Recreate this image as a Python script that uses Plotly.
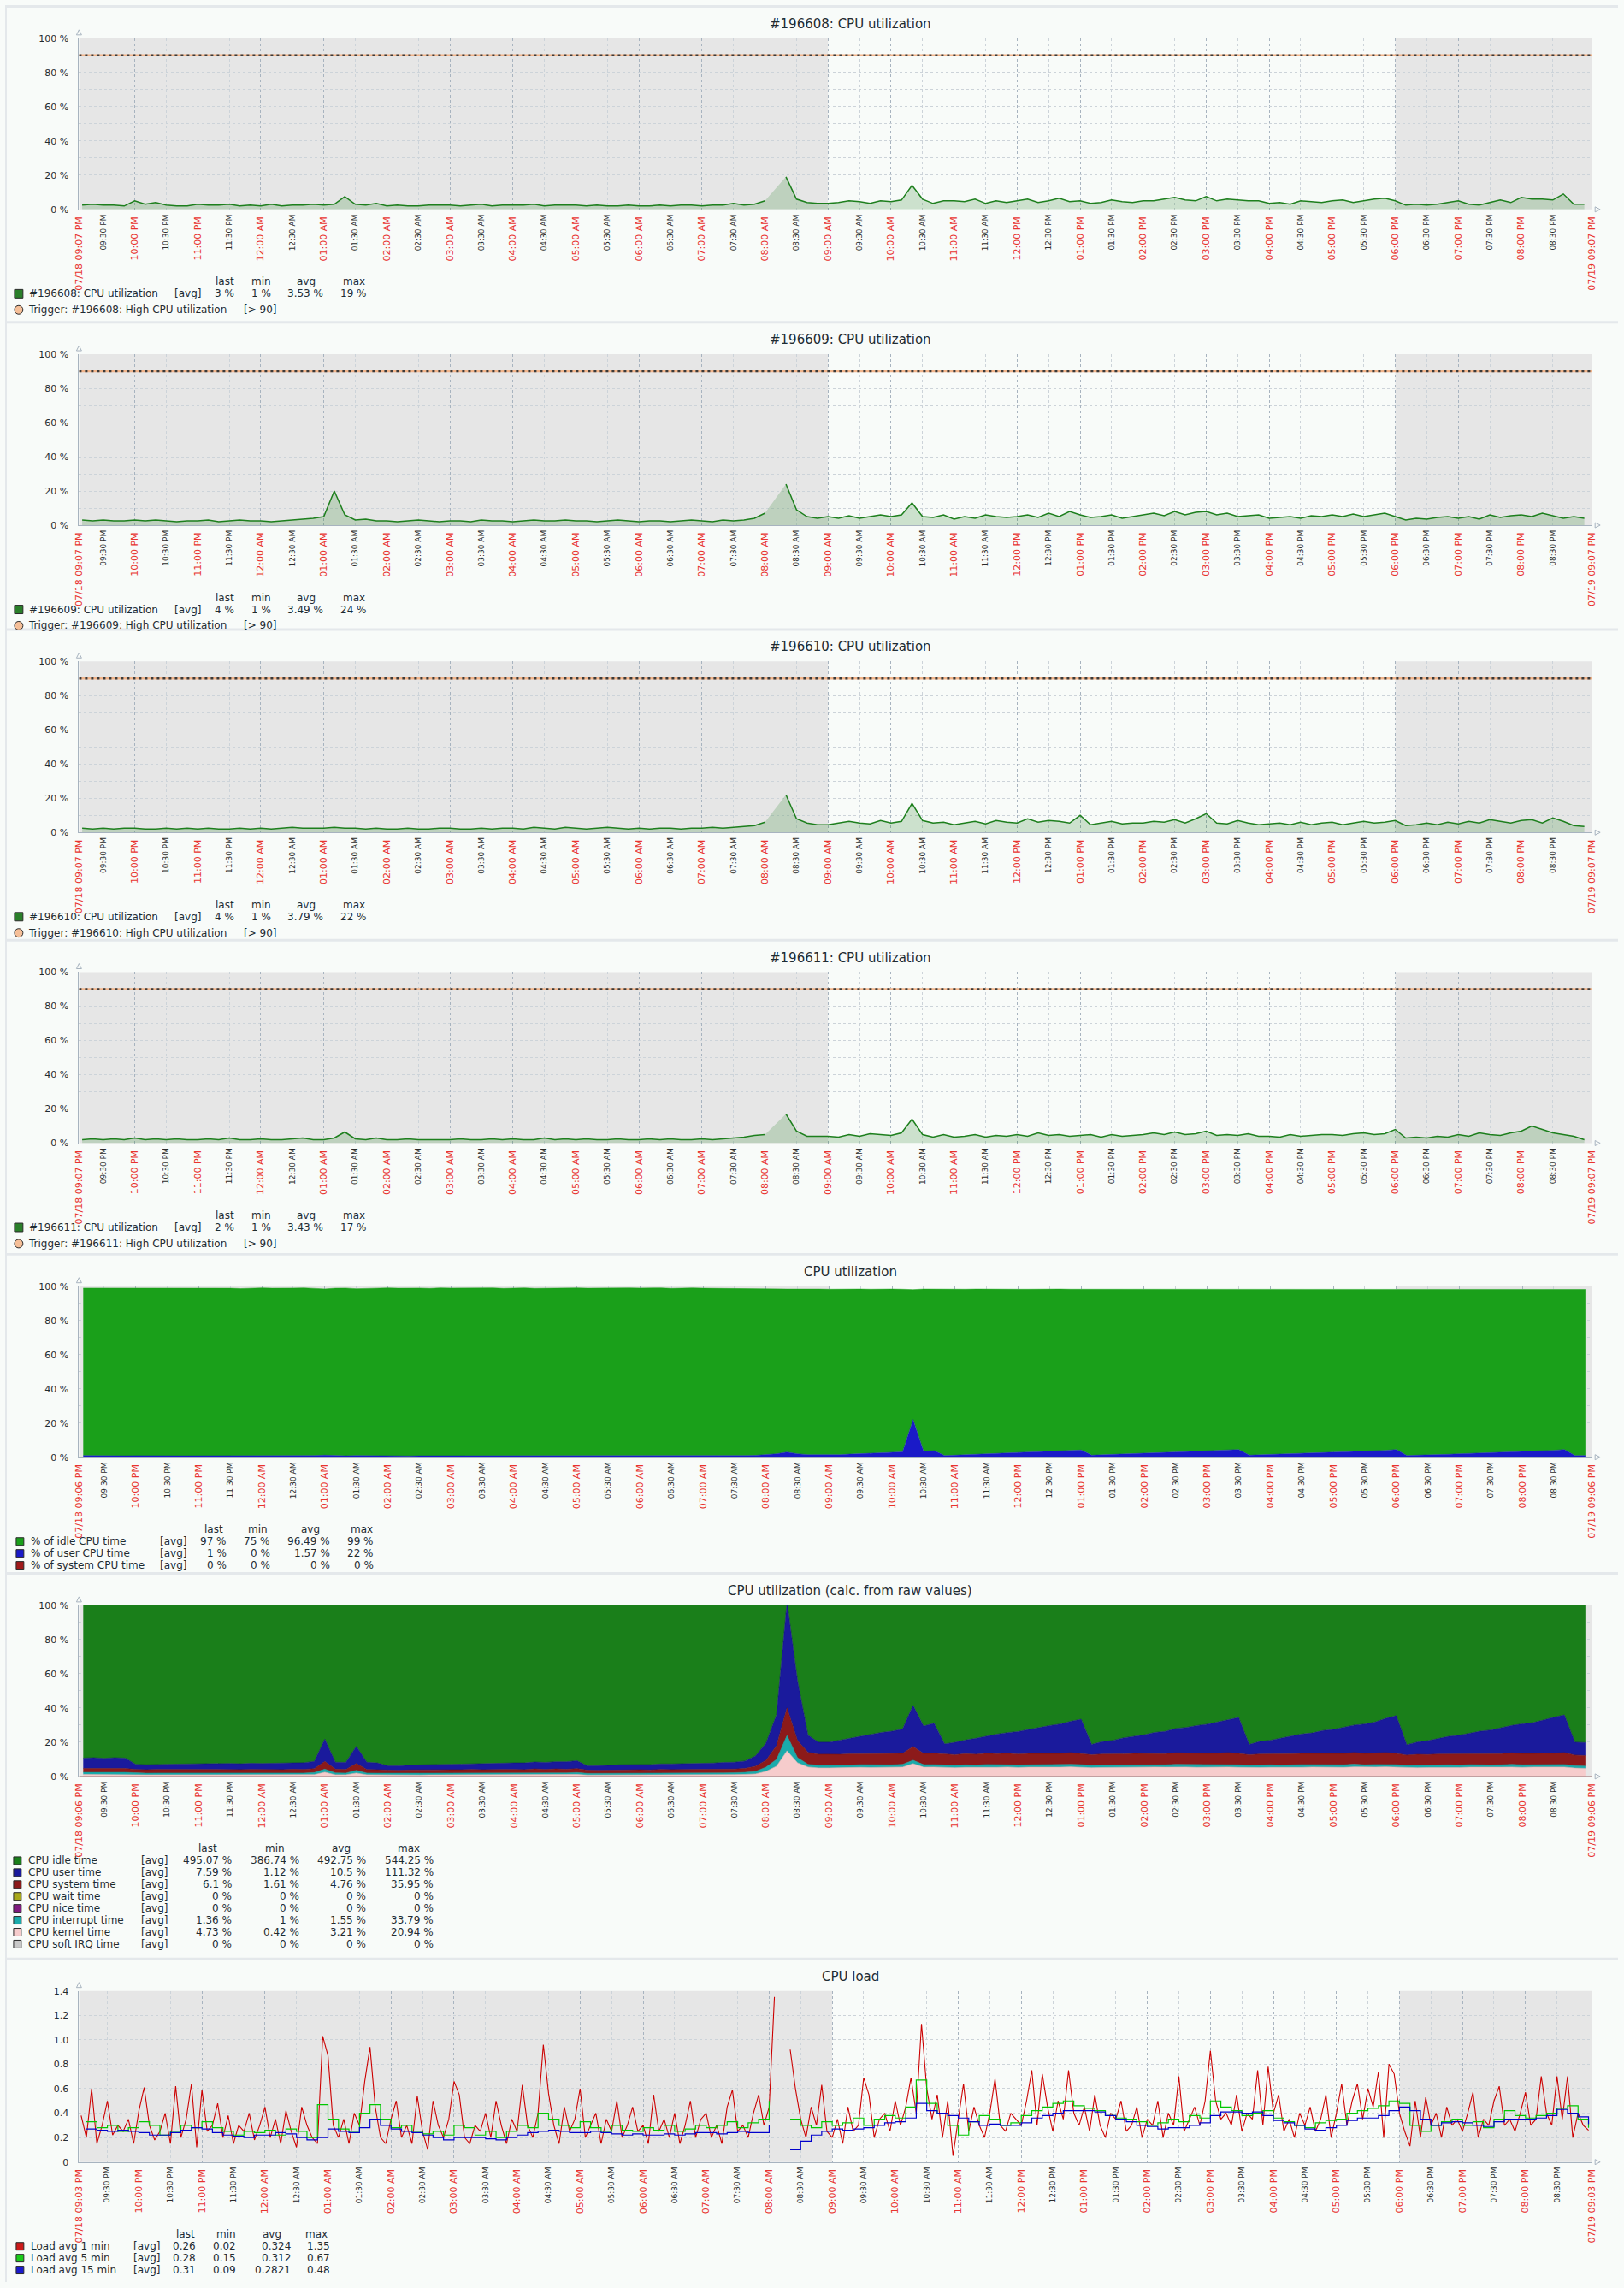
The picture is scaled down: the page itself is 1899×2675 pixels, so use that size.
import pandas as pd
import plotly.graph_objects as go

# ------------------------------------------------------------------ data
TITLES = ["#196608: CPU utilization", "#196609: CPU utilization",
          "#196610: CPU utilization", "#196611: CPU utilization",
          "CPU utilization", "CPU utilization (calc. from raw values)", "CPU load"]
STARTS = ["2019-07-18 21:07", "2019-07-18 21:07", "2019-07-18 21:07", "2019-07-18 21:07",
          "2019-07-18 21:06", "2019-07-18 21:06", "2019-07-18 21:03"]
SAMPLE10_START = "2019-07-18 21:10"
SAMPLE5_START = "2019-07-18 21:05"
DAY_FROM = "2019-07-19 09:00"
DAY_TO = "2019-07-19 18:00"

PCT_TICKS = [0, 20, 40, 60, 80, 100]
PCT_MINOR = [10, 30, 50, 70, 90]
LOAD_TICKS = [0, 0.2, 0.4, 0.6, 0.8, 1.0, 1.2, 1.4]
LOAD_TICKTEXT = ["0", "0.2", "0.4", "0.6", "0.8", "1.0", "1.2", "1.4"]

HOSTS = ["196608", "196609", "196610", "196611"]
TRIGGER_LEVEL = [90, 90, 90, 90]
CPU_STATS = [["3 %", "1 %", "3.53 %", "19 %"], ["4 %", "1 %", "3.49 %", "24 %"],
             ["4 %", "1 %", "3.79 %", "22 %"], ["2 %", "1 %", "3.43 %", "17 %"]]

# 10-minute samples from 21:10 (first row 21:10-21:50, then one row per hour, last 21:00)
cpu_196608 = [2.5, 3, 2.5, 2.5, 2,
              5, 3, 4, 2.5, 2, 2,
              3, 2.5, 2.5, 3, 2, 2.5,
              2, 3, 2, 2.5, 2.5, 3,
              2.5, 3, 7.5, 3, 2.5, 3.5,
              2, 2.5, 2, 2, 2.5, 2.5,
              2.5, 2, 2.5, 3, 2, 2.5,
              2.5, 2.5, 3, 2, 2.5, 2.5,
              2.5, 2, 2.5, 2, 2, 2.5,
              2, 2, 2.5, 2, 2.5, 2.5,
              2, 2.5, 2.5, 3.5, 2.5, 3,
              5, None, 19, 6, 4, 3.5,
              3.5, 4, 5, 4.5, 3.5, 5,
              4.5, 5.5, 14, 6, 3.5, 5,
              5, 4.5, 6, 3.5, 5, 4,
              5, 6, 4, 5, 6.5, 4.5,
              5, 3.5, 4, 5.5, 4.5, 4,
              5, 5, 6, 7, 5.5, 5,
              7.5, 5, 6, 5.5, 5, 5,
              3.5, 4, 3, 5, 4.5, 4,
              5, 5.5, 4, 5, 6, 6.5,
              5, 2.5, 3, 2.5, 3, 4,
              5, 3, 2.5, 4, 5.5, 4,
              7, 6, 6, 5.5, 9, 3,
              3]
cpu_196609 = [3, 2.5, 3, 2.5, 2.5,
              3, 2.5, 3, 2.5, 2, 2.5,
              2.5, 3, 2, 2.5, 3, 2.5,
              2.5, 2, 2.5, 3, 3.5, 4,
              5, 20, 6, 3, 3.5, 2.5,
              2.5, 2, 2.5, 3, 2.5, 2,
              2.5, 2.5, 2, 3, 2.5, 2.5,
              2, 2.5, 3, 2.5, 2.5, 3,
              2.5, 2.5, 2, 2.5, 3, 2.5,
              2, 2.5, 2.5, 2, 2.5, 3,
              2.5, 2, 3, 2.5, 3, 4,
              7, None, 24, 9, 5, 4,
              5, 4, 5.5, 4, 5, 6,
              5, 6, 13, 5, 4.5, 6,
              3.5, 5, 4, 6, 5, 4.5,
              5, 6, 4.5, 7, 5, 8,
              6, 4.5, 5, 6, 4, 5,
              6, 7, 5.5, 8, 6, 7.5,
              8, 6, 7, 5, 5.5, 6,
              4, 4.5, 5, 4, 5.5, 5,
              6, 5, 6.5, 5, 6, 7,
              5, 3, 4, 3.5, 4.5, 5,
              4, 5, 3.5, 6, 4.5, 5.5,
              6, 5, 7, 5.5, 4, 5,
              4]
cpu_196610 = [2.5, 2, 2.5, 2, 2.5,
              2.5, 2, 2, 2.5, 2, 2.5,
              2, 2.5, 2, 2, 2.5, 2,
              2.5, 2, 2.5, 3, 2.5, 2.5,
              2.5, 3, 2.5, 2.5, 2, 2.5,
              2, 2, 2.5, 2, 2, 2.5,
              2.5, 2, 2, 2.5, 2, 2.5,
              2.5, 2, 3, 2.5, 2, 3,
              2.5, 2, 2.5, 3, 2.5, 2,
              2.5, 2, 2.5, 2.5, 2, 2.5,
              2.5, 3, 2.5, 3, 3.5, 4,
              6, None, 22, 8, 5.5, 4.5,
              4.5, 5.5, 6.5, 5.5, 5, 7,
              5.5, 6.5, 17, 7, 5.5, 6,
              4.5, 5.5, 6.5, 5, 7, 6,
              5.5, 8, 6, 7, 6.5, 5.5,
              10, 4.5, 5.5, 6.5, 5, 5.5,
              5.5, 6.5, 6, 7.5, 5.5, 8,
              11, 5.5, 5, 7, 5.5, 4.5,
              5, 5.5, 4.5, 6, 4.5, 5.5,
              6, 4.5, 5.5, 6.5, 5.5, 6,
              7, 4, 4.5, 5.5, 4.5, 6,
              5, 6.5, 5.5, 7.5, 6.5, 5.5,
              7, 7.5, 5.5, 8.5, 6.5, 4,
              3.5]
cpu_196611 = [2, 2.5, 2, 2.5, 2,
              3, 2, 2.5, 2, 2.5, 2,
              2, 2.5, 2, 3, 2, 2,
              2.5, 2, 2, 2.5, 3, 2,
              2, 3, 6.5, 2.5, 2, 3,
              2, 2, 2.5, 2, 2, 2,
              2, 2.5, 2, 2, 2.5, 2,
              2.5, 2, 2, 3, 2, 2.5,
              2, 2.5, 2, 2, 2.5, 2,
              2, 2.5, 2, 2.5, 2, 2,
              2.5, 2, 2.5, 3, 3.5, 4.5,
              5, None, 17, 7, 4, 4,
              4, 3.5, 5, 4, 5.5, 5,
              4.5, 6, 14, 5, 3.5, 5,
              3.5, 4, 5, 3.5, 4.5, 4,
              5, 4, 6, 4.5, 5, 4,
              4.5, 5, 3.5, 5, 4, 4.5,
              5, 6, 5, 6.5, 5, 5.5,
              7, 4.5, 5, 4.5, 5.5, 4,
              4, 3.5, 5, 4, 4.5, 5,
              5, 4.5, 5.5, 6, 5, 5.5,
              8, 3, 3.5, 3, 4, 3.5,
              5, 4, 6, 5, 4.5, 6,
              7, 10, 8, 6, 5, 4,
              2]

# "CPU utilization" (percent)
pct_user = [1.0, 0.9, 0.9, 0.8, 0.8,
            0.9, 0.8, 0.8, 0.9, 0.8, 0.8,
            0.8, 0.9, 0.8, 0.8, 0.9, 0.8,
            0.8, 0.8, 0.9, 0.8, 0.8, 1.0,
            1.2, 0.9, 0.8, 1.0, 0.9, 0.8,
            0.8, 0.8, 0.7, 0.8, 0.8, 0.8,
            0.8, 0.7, 0.8, 0.8, 0.7, 0.8,
            0.8, 0.8, 0.9, 0.8, 0.8, 0.9,
            0.8, 0.8, 0.8, 0.7, 0.8, 0.8,
            0.8, 0.8, 0.7, 0.8, 0.8, 0.8,
            0.8, 0.9, 0.8, 0.9, 1.0, 1.1,
            1.5, 2.0, 3.0, 2.0, 1.5, 1.5,
            1.2, 1.5, 1.8, 2.0, 2.3, 2.6,
            2.8, 3.1, 22.0, 3.5, 3.8, 1.0,
            1.2, 1.5, 1.8, 2.0, 2.3, 2.5,
            2.8, 3.0, 3.2, 3.5, 3.8, 4.0,
            4.2, 1.2, 1.4, 1.6, 1.9, 2.1,
            2.3, 2.5, 2.8, 3.0, 3.2, 3.5,
            3.7, 4.0, 4.2, 4.5, 1.2, 1.4,
            1.6, 1.8, 2.0, 2.3, 2.5, 2.7,
            2.9, 3.1, 3.3, 3.6, 3.8, 4.0,
            4.5, 1.0, 1.2, 1.3, 1.5, 1.7,
            2.0, 2.2, 2.5, 2.7, 3.0, 3.2,
            3.4, 3.6, 3.8, 4.0, 4.5, 1.0,
            1.0]
pct_idle = [97.9, 98.0, 97.8, 98.1, 98.0,
            97.9, 98.1, 98.2, 97.8, 98.0, 98.2,
            98.1, 97.9, 98.2, 98.0, 97.7, 98.1,
            98.2, 98.0, 97.8, 98.1, 98.2, 97.6,
            97.2, 97.9, 98.1, 97.5, 97.8, 98.1,
            98.2, 98.0, 98.3, 98.1, 97.9, 98.2,
            98.1, 98.3, 98.0, 98.2, 98.3, 97.9,
            98.1, 98.2, 97.8, 98.0, 98.2, 97.9,
            98.2, 98.0, 98.1, 98.3, 98.0, 98.2,
            98.1, 98.2, 98.3, 97.9, 98.1, 98.2,
            98.0, 97.8, 98.1, 97.9, 97.6, 97.5,
            96.8, 96.2, 95.3, 96.3, 96.9, 96.8,
            97.0, 96.8, 96.4, 96.3, 95.9, 95.8,
            95.5, 95.1, 76.0, 94.8, 94.4, 97.2,
            97.0, 96.7, 96.5, 96.2, 95.9, 95.8,
            95.4, 95.2, 95.1, 94.7, 94.5, 94.2,
            94.0, 97.0, 96.9, 96.6, 96.3, 96.2,
            95.9, 95.8, 95.4, 95.2, 95.1, 94.7,
            94.6, 94.2, 94.1, 93.8, 97.0, 96.9,
            96.6, 96.5, 96.2, 95.9, 95.8, 95.5,
            95.4, 95.1, 95.0, 94.6, 94.5, 94.2,
            93.8, 97.2, 97.1, 96.9, 96.8, 96.5,
            96.3, 96.0, 95.8, 95.5, 95.3, 95.0,
            94.9, 94.6, 94.5, 94.2, 93.8, 97.2,
            97.1]
pct_system = [0, 0]

# "CPU utilization (calc. from raw values)"
raw_kernel = [1.2, 1.2, 1.2, 1.3, 1.2,
              1.0, 0.9, 0.9, 1.0, 0.9, 1.0,
              1.0, 0.9, 1.0, 1.0, 0.9, 1.0,
              1.0, 1.0, 0.9, 1.0, 1.0, 1.1,
              2.5, 1.0, 1.0, 2.0, 1.0, 0.9,
              0.8, 0.8, 0.9, 0.8, 0.9, 0.9,
              0.9, 0.9, 1.0, 0.9, 1.0, 1.0,
              1.0, 1.0, 1.1, 1.0, 1.1, 1.1,
              1.2, 0.8, 0.8, 0.8, 0.9, 0.9,
              0.9, 0.9, 1.0, 0.9, 1.0, 1.0,
              1.0, 1.0, 1.1, 1.1, 1.2, 1.5,
              3.0, 6.0, 15.0, 8.0, 5.5, 5.0,
              5.0, 5.2, 5.1, 5.3, 5.2, 5.4,
              5.3, 5.5, 7.5, 5.4, 5.5, 5.2,
              5.1, 5.3, 5.2, 5.4, 5.3, 5.5,
              5.2, 5.4, 5.3, 5.5, 5.4, 5.6,
              5.3, 5.1, 5.2, 5.3, 5.2, 5.4,
              5.3, 5.5, 5.4, 5.6, 5.5, 5.3,
              5.4, 5.6, 5.5, 5.3, 5.1, 5.2,
              5.3, 5.2, 5.4, 5.3, 5.5, 5.4,
              5.5, 5.3, 5.6, 5.4, 5.5, 5.6,
              5.4, 5.0, 5.1, 5.2, 5.1, 5.3,
              5.2, 5.4, 5.3, 5.2, 5.4, 5.5,
              5.3, 5.5, 5.4, 5.6, 5.5, 4.9,
              4.73]
raw_interrupt = [1.2, 1.1, 1.2, 1.1, 1.2,
                 1.0, 1.0, 1.1, 1.0, 1.0, 1.1,
                 1.0, 1.1, 1.0, 1.0, 1.1, 1.0,
                 1.0, 1.0, 1.1, 1.0, 1.0, 1.2,
                 1.8, 1.1, 1.0, 1.6, 1.0, 1.0,
                 1.0, 1.0, 1.0, 1.1, 1.0, 1.0,
                 1.0, 1.1, 1.0, 1.0, 1.0, 1.1,
                 1.0, 1.0, 1.1, 1.0, 1.1, 1.0,
                 1.1, 1.0, 1.0, 1.0, 1.1, 1.0,
                 1.0, 1.0, 1.1, 1.0, 1.0, 1.0,
                 1.0, 1.1, 1.0, 1.1, 1.2, 1.5,
                 2.5, 4.0, 9.0, 3.0, 1.6, 1.5,
                 1.5, 1.4, 1.5, 1.6, 1.5, 1.4,
                 1.5, 1.6, 2.0, 1.5, 1.4, 1.5,
                 1.4, 1.5, 1.4, 1.6, 1.5, 1.4,
                 1.5, 1.4, 1.6, 1.5, 1.4, 1.5,
                 1.6, 1.4, 1.5, 1.4, 1.5, 1.6,
                 1.4, 1.5, 1.4, 1.5, 1.6, 1.5,
                 1.4, 1.5, 1.6, 1.5, 1.4, 1.5,
                 1.5, 1.4, 1.5, 1.6, 1.4, 1.5,
                 1.4, 1.5, 1.6, 1.4, 1.5, 1.4,
                 1.5, 1.4, 1.5, 1.4, 1.6, 1.5,
                 1.4, 1.5, 1.4, 1.5, 1.4, 1.6,
                 1.5, 1.4, 1.5, 1.4, 1.5, 1.4,
                 1.36]
raw_system = [2.3, 2.4, 2.3, 2.4, 2.3,
              2.1, 2.0, 2.1, 2.0, 2.1, 2.0,
              2.1, 2.0, 2.2, 2.1, 2.0, 2.1,
              2.0, 2.1, 2.0, 2.2, 2.1, 2.3,
              4.5, 2.2, 2.1, 4.0, 2.1, 2.0,
              1.9, 1.8, 1.9, 2.0, 1.9, 2.0,
              2.0, 1.9, 2.1, 2.0, 2.1, 2.0,
              2.1, 2.0, 2.2, 2.1, 2.2, 2.1,
              2.3, 1.9, 1.8, 1.9, 2.0, 1.9,
              2.0, 1.9, 2.0, 2.1, 2.0, 2.1,
              2.1, 2.0, 2.2, 2.1, 2.3, 3.0,
              4.0, 8.0, 16.0, 10.0, 7.0, 6.5,
              6.5, 6.3, 6.6, 6.4, 6.7, 6.5,
              6.6, 6.4, 8.0, 6.5, 6.7, 6.3,
              6.2, 6.5, 6.4, 6.6, 6.5, 6.7,
              6.4, 6.6, 6.5, 6.7, 6.6, 6.8,
              6.5, 6.2, 6.4, 6.3, 6.5, 6.4,
              6.6, 6.4, 6.5, 6.7, 6.5, 6.6,
              6.7, 6.5, 6.8, 6.6, 6.2, 6.4,
              6.3, 6.5, 6.4, 6.6, 6.5, 6.7,
              6.5, 6.6, 6.8, 6.6, 6.7, 6.9,
              6.6, 6.1, 6.3, 6.2, 6.4, 6.3,
              6.5, 6.3, 6.6, 6.4, 6.5, 6.7,
              6.6, 6.5, 6.8, 6.6, 6.9, 6.2,
              6.1]
raw_user = [6.0, 6.2, 5.9, 6.1, 6.0,
            3.0, 2.9, 3.0, 3.1, 3.2, 3.2,
            3.3, 3.2, 3.4, 3.5, 3.4, 3.6,
            3.6, 3.7, 3.8, 3.7, 3.9, 4.2,
            13.0, 4.0, 4.1, 10.0, 4.2, 4.0,
            2.5, 2.6, 2.8, 2.9, 3.0, 3.1,
            3.2, 3.3, 3.3, 3.5, 3.6, 3.7,
            3.8, 3.9, 4.0, 4.1, 4.2, 4.4,
            4.6, 2.5, 2.6, 2.7, 2.8, 2.9,
            3.0, 3.1, 3.2, 3.3, 3.4, 3.5,
            3.6, 3.7, 3.9, 4.0, 4.3, 6.0,
            10.0, 18.0, 62.0, 35.0, 10.0, 7.0,
            7.0, 8.2, 9.0, 10.3, 11.0, 12.4,
            13.0, 14.2, 24.0, 16.0, 17.5, 6.0,
            7.2, 8.0, 9.3, 10.0, 11.4, 12.0,
            13.1, 14.0, 15.3, 16.0, 17.2, 18.3,
            20.0, 6.0, 7.2, 8.0, 9.3, 10.1,
            11.0, 12.3, 13.0, 14.2, 15.0, 16.3,
            17.0, 18.2, 19.1, 21.0, 6.0, 7.3,
            8.0, 9.2, 10.0, 11.3, 12.0, 13.2,
            14.0, 15.3, 16.0, 17.2, 18.1, 20.0,
            22.0, 6.0, 7.2, 8.1, 9.0, 10.3,
            11.0, 12.2, 13.1, 14.0, 15.2, 16.0,
            17.3, 18.0, 19.2, 21.0, 22.0, 7.5,
            7.59]
raw_idle = [490, 489, 491, 490, 490,
            495, 496, 495, 494, 495, 495,
            494, 495, 494, 494, 495, 494,
            494, 494, 493, 494, 494, 492,
            469, 493, 494, 477, 493, 494,
            496, 496, 495, 495, 495, 495,
            495, 495, 494, 494, 494, 494,
            494, 494, 493, 493, 493, 493,
            492, 496, 496, 495, 495, 495,
            495, 495, 494, 494, 494, 494,
            494, 494, 493, 493, 492, 488,
            480, 463, 387, 430, 475, 478,
            479, 478, 477, 476, 475, 474,
            473, 472, 430, 470, 469, 480,
            480, 479, 478, 476, 476, 474,
            473, 472, 471, 470, 469, 468,
            466, 481, 480, 479, 478, 477,
            476, 475, 474, 473, 472, 471,
            470, 469, 468, 466, 481, 480,
            479, 478, 477, 476, 475, 474,
            473, 472, 471, 470, 469, 467,
            465, 482, 481, 480, 479, 478,
            477, 476, 475, 474, 473, 472,
            471, 470, 469, 467, 466, 480,
            495]
raw_zero = [0, 0]

# "CPU load": 1-min average every 5 minutes from 21:05, 5/15-min every 10 minutes from 21:10
load_1 = [0.38, 0.2, 0.6, 0.15, 0.3, 0.5, 0.22, 0.3, 0.25, 0.35, 0.15,
          0.42, 0.61, 0.3, 0.18, 0.25, 0.4, 0.15, 0.62, 0.2, 0.35, 0.64, 0.12,
          0.59, 0.25, 0.3, 0.48, 0.2, 0.38, 0.15, 0.3, 0.25, 0.4, 0.18, 0.3,
          0.45, 0.2, 0.35, 0.15, 0.42, 0.25, 0.12, 0.45, 0.3, 0.2, 0.15, 1.03,
          0.87, 0.3, 0.2, 0.35, 0.15, 0.4, 0.3, 0.66, 0.94, 0.45, 0.2, 0.15,
          0.35, 0.5, 0.2, 0.3, 0.15, 0.54, 0.25, 0.1, 0.5, 0.3, 0.2, 0.35,
          0.66, 0.55, 0.2, 0.15, 0.3, 0.25, 0.4, 0.2, 0.5, 0.3, 0.15, 0.35,
          0.25, 0.63, 0.3, 0.2, 0.4, 0.96, 0.56, 0.3, 0.15, 0.45, 0.25, 0.35,
          0.6, 0.2, 0.3, 0.4, 0.15, 0.35, 0.25, 0.5, 0.2, 0.3, 0.45, 0.25,
          0.3, 0.15, 0.55, 0.25, 0.35, 0.2, 0.4, 0.15, 0.3, 0.5, 0.2, 0.35,
          0.4, 0.2, 0.3, 0.15, 0.45, 0.59, 0.25, 0.3, 0.2, 0.4, 0.55, 0.3,
          0.45, 1.35, None, None, 0.92, 0.6, 0.35, 0.2, 0.45, 0.3, 0.63, 0.25,
          0.2, 0.35, 0.15, 0.45, 0.25, 0.3, 0.69, 0.55, 0.2, 0.35, 0.4, 0.25,
          0.5, 0.3, 0.45, 0.69, 0.4, 1.13, 0.6, 0.35, 0.55, 0.2, 0.5, 0.05,
          0.35, 0.64, 0.25, 0.45, 0.3, 0.2, 0.4, 0.68, 0.3, 0.25, 0.4, 0.35,
          0.3, 0.5, 0.75, 0.3, 0.72, 0.45, 0.25, 0.5, 0.35, 0.75, 0.4, 0.3,
          0.45, 0.25, 0.55, 0.3, 0.2, 0.4, 0.35, 0.5, 0.25, 0.3, 0.45, 0.2,
          0.35, 0.3, 0.5, 0.2, 0.4, 0.3, 0.7, 0.25, 0.35, 0.45, 0.3, 0.5,
          0.91, 0.5, 0.35, 0.4, 0.3, 0.55, 0.25, 0.4, 0.35, 0.75, 0.3, 0.78,
          0.4, 0.55, 0.25, 0.35, 0.2, 0.4, 0.3, 0.45, 0.25, 0.35, 0.55, 0.2,
          0.4, 0.64, 0.3, 0.5, 0.64, 0.35, 0.6, 0.45, 0.74, 0.2, 0.8, 0.72,
          0.4, 0.25, 0.13, 0.5, 0.2, 0.53, 0.3, 0.4, 0.2, 0.45, 0.3, 0.35,
          0.25, 0.4, 0.57, 0.2, 0.35, 0.3, 0.5, 0.62, 0.3, 0.35, 0.25, 0.4,
          0.57, 0.3, 0.35, 0.7, 0.4, 0.3, 0.7, 0.35, 0.7, 0.2, 0.4, 0.3,
          0.26]
load_5 = [0.33, 0.28, 0.3, 0.25, 0.28,
          0.33, 0.3, 0.22, 0.25, 0.3, 0.28,
          0.33, 0.28, 0.25, 0.22, 0.25, 0.24,
          0.26, 0.22, 0.27, 0.25, 0.2, 0.47,
          0.35, 0.27, 0.25, 0.4, 0.47, 0.35,
          0.28, 0.3, 0.25, 0.23, 0.25, 0.22,
          0.3, 0.28, 0.22, 0.25, 0.2, 0.25,
          0.3, 0.28, 0.4, 0.35, 0.3, 0.28,
          0.33, 0.28, 0.25, 0.3, 0.26, 0.25,
          0.28, 0.26, 0.3, 0.25, 0.27, 0.3,
          0.28, 0.3, 0.33, 0.28, 0.32, 0.35,
          0.5, None, 0.35, 0.3, 0.28, 0.33,
          0.3, 0.32, 0.36, 0.3, 0.35, 0.38,
          0.36, 0.45, 0.67, 0.48, 0.4, 0.3,
          0.22, 0.33, 0.38, 0.35, 0.3, 0.32,
          0.38, 0.42, 0.45, 0.48, 0.5, 0.46,
          0.44, 0.42, 0.38, 0.36, 0.35, 0.33,
          0.3, 0.32, 0.35, 0.33, 0.38, 0.36,
          0.5, 0.45, 0.42, 0.38, 0.4, 0.42,
          0.36, 0.33, 0.3, 0.28, 0.32, 0.34,
          0.35, 0.4, 0.42, 0.44, 0.46, 0.5,
          0.48, 0.3, 0.25, 0.3, 0.33, 0.35,
          0.3, 0.33, 0.28, 0.35, 0.42, 0.38,
          0.36, 0.38, 0.4, 0.44, 0.46, 0.35,
          0.28]
load_15 = [0.27, 0.26, 0.25, 0.26, 0.25,
           0.24, 0.22, 0.22, 0.24, 0.26, 0.28,
           0.27, 0.24, 0.22, 0.21, 0.2, 0.22,
           0.22, 0.24, 0.23, 0.2, 0.18, 0.2,
           0.27, 0.25, 0.24, 0.28, 0.35, 0.3,
           0.27, 0.25, 0.24, 0.22, 0.2, 0.18,
           0.2, 0.2, 0.2, 0.19, 0.18, 0.2,
           0.22, 0.24, 0.25, 0.26, 0.25, 0.24,
           0.24, 0.25, 0.24, 0.23, 0.22, 0.23,
           0.22, 0.22, 0.23, 0.22, 0.23, 0.24,
           0.24, 0.23, 0.24, 0.25, 0.24, 0.24,
           0.3, None, 0.1, 0.17, 0.22, 0.25,
           0.27, 0.26, 0.27, 0.28, 0.3, 0.32,
           0.33, 0.36, 0.48, 0.42, 0.4, 0.38,
           0.36, 0.33, 0.3, 0.31, 0.3, 0.3,
           0.32, 0.36, 0.38, 0.4, 0.42, 0.42,
           0.42, 0.41, 0.38, 0.35, 0.33, 0.3,
           0.29, 0.27, 0.28, 0.28, 0.3, 0.32,
           0.38, 0.41, 0.41, 0.4, 0.41, 0.38,
           0.34, 0.32, 0.3, 0.27, 0.26, 0.28,
           0.3, 0.34, 0.36, 0.36, 0.38, 0.42,
           0.45, 0.42, 0.35, 0.3, 0.32, 0.33,
           0.32, 0.3, 0.29, 0.33, 0.35, 0.35,
           0.35, 0.36, 0.38, 0.43, 0.4, 0.37,
           0.31]

PCT_ROWS = [("% of idle CPU time", ["97 %", "75 %", "96.49 %", "99 %"]),
            ("% of user CPU time", ["1 %", "0 %", "1.57 %", "22 %"]),
            ("% of system CPU time", ["0 %", "0 %", "0 %", "0 %"])]
RAW_ROWS = [("CPU idle time", ["495.07 %", "386.74 %", "492.75 %", "544.25 %"]),
            ("CPU user time", ["7.59 %", "1.12 %", "10.5 %", "111.32 %"]),
            ("CPU system time", ["6.1 %", "1.61 %", "4.76 %", "35.95 %"]),
            ("CPU wait time", ["0 %", "0 %", "0 %", "0 %"]),
            ("CPU nice time", ["0 %", "0 %", "0 %", "0 %"]),
            ("CPU interrupt time", ["1.36 %", "1 %", "1.55 %", "33.79 %"]),
            ("CPU kernel time", ["4.73 %", "0.42 %", "3.21 %", "20.94 %"]),
            ("CPU soft IRQ time", ["0 %", "0 %", "0 %", "0 %"])]
LOAD_ROWS = [("Load avg 1 min", ["0.26", "0.02", "0.324", "1.35"]),
             ("Load avg 5 min", ["0.28", "0.15", "0.312", "0.67"]),
             ("Load avg 15 min", ["0.31", "0.09", "0.2821", "0.48"])]

# ------------------------------------------------------------------ styling
W, H = 1899, 2675
PLOT_L, PLOT_R, PLOT_H = 87, 1868, 201
TOPS = [39, 410, 771, 1136, 1505, 1880, 2333]
FONT = "DejaVu Sans"
BG = "#f8fbf9"
SEP = "#e4e8eb"
NIGHT = "#e6e6e6"
GRID_MAJ = "#a7b3bf"
GRID_MIN = "#ccd3d9"
AXIS = "#a7b3bf"
TXT = "#1f2c33"
RED = "#e8332f"
CPU_LINE = "#1d7f1d"
CPU_FILL = "rgba(29,127,29,0.20)"
PCT_COLORS = {"idle": "#1aa01a", "user": "#1a1ac8", "system": "#a01a1a"}
RAW_COLORS = ["#1a7f1a", "#1a1a9c", "#8c1a1a", "#a8a81a", "#7f1a7f", "#1aabab", "#f6cccc", "#c8c8c8"]
LOAD_COLORS = ["#cc0000", "#00c800", "#0000cc"]
LOAD_SQ = ["#cc1a1a", "#1acc1a", "#1a1acc"]

t10 = pd.date_range(SAMPLE10_START, periods=len(cpu_196608), freq="10min")
t5 = pd.date_range(SAMPLE5_START, periods=len(load_1), freq="5min")


def px(x):
    return x / W


def py(y):
    return 1 - y / H


fig = go.Figure()
layout = dict(width=W, height=H, autosize=False, margin=dict(l=0, r=0, t=0, b=0, pad=0),
              paper_bgcolor=BG, plot_bgcolor=BG, showlegend=False,
              font=dict(family=FONT, color=TXT, size=12), hovermode=False)
annotations = []
shapes = []


def text(x, y, s, anchor="left", size=12, color=TXT):
    annotations.append(dict(x=px(x), y=py(y), xref="paper", yref="paper", text=s,
                            showarrow=False, xanchor=anchor, yanchor="middle",
                            borderpad=0, font=dict(family=FONT, size=size, color=color)))


def square(x0, yc, color, size=9):
    shapes.append(dict(type="rect", xref="paper", yref="paper",
                       x0=px(x0), x1=px(x0 + size), y0=py(yc + size / 2), y1=py(yc - size / 2),
                       fillcolor=color, line=dict(color="#2a2a2a", width=1), layer="above"))


# separators of the page
shapes.append(dict(type="rect", xref="paper", yref="paper", x0=0, x1=1, y0=py(3), y1=1,
                   fillcolor=SEP, line_width=0, layer="below"))
shapes.append(dict(type="rect", xref="paper", yref="paper", x0=0, x1=px(2), y0=0, y1=1,
                   fillcolor=SEP, line_width=0, layer="below"))
for top in TOPS[1:]:
    shapes.append(dict(type="rect", xref="paper", yref="paper", x0=0, x1=1,
                       y0=py(top - 36), y1=py(top - 39), fillcolor=SEP, line_width=0, layer="below"))

for k in range(7):
    a, b, yi = 2 * k + 1, 2 * k + 2, k + 1
    xref = "x" if a == 1 else f"x{a}"
    xref2 = f"x{b}"
    xname = "xaxis" if a == 1 else f"xaxis{a}"
    yref = "y" if yi == 1 else f"y{yi}"
    yname = "yaxis" if yi == 1 else f"yaxis{yi}"
    top = TOPS[k]
    bottom = top + PLOT_H
    start = pd.Timestamp(STARTS[k])
    end = start + pd.Timedelta(hours=24)
    base = start.floor("h")
    hours = [base + pd.Timedelta(hours=h) for h in range(1, 24)]
    halves = [base + pd.Timedelta(minutes=30 + 60 * h) for h in range(24)]
    xdom = [px(PLOT_L), px(PLOT_R)]
    ydom = [py(bottom), py(top)]

    major_vals = [start] + hours + [end]
    major_text = ([start.strftime("%m/%d %I:%M %p")] + [h.strftime("%I:%M %p") for h in hours]
                  + [end.strftime("%m/%d %I:%M %p")])
    layout[xname] = dict(domain=xdom, anchor=yref, type="date", range=[start, end],
                         tickmode="array", tickvals=major_vals, ticktext=major_text,
                         tickangle=-90, tickfont=dict(family=FONT, size=11, color=RED),
                         showgrid=True, gridcolor=GRID_MAJ, griddash="3px,3px", gridwidth=1,
                         showline=True, linecolor=AXIS, linewidth=1, ticks="",
                         zeroline=False, fixedrange=True, ticklabelstandoff=3)
    layout[f"xaxis{b}"] = dict(domain=xdom, anchor=yref, overlaying=xref, type="date",
                               range=[start, end], tickmode="array", tickvals=halves,
                               ticktext=[h.strftime("%I:%M %p") for h in halves],
                               tickangle=-90, tickfont=dict(family=FONT, size=9, color="#2b2b2b"),
                               showgrid=True, gridcolor=GRID_MIN, griddash="3px,3px", gridwidth=1,
                               showline=False, ticks="", zeroline=False, fixedrange=True,
                               ticklabelstandoff=3, side="bottom")
    if k < 6:
        yr = [0, 100]
        tv, tt = PCT_TICKS, [f"{v} %" for v in PCT_TICKS]
        minor = dict(tickmode="array", tickvals=PCT_MINOR, showgrid=True,
                     gridcolor=GRID_MIN, griddash="3px,3px", ticks="")
    else:
        yr = [0, 1.4]
        tv, tt = LOAD_TICKS, LOAD_TICKTEXT
        minor = None
    ydict = dict(domain=ydom, anchor=xref, range=yr, tickmode="array", tickvals=tv, ticktext=tt,
                 showgrid=True, gridcolor=GRID_MIN, griddash="3px,3px", showline=True,
                 linecolor=AXIS, linewidth=1, ticks="", zeroline=False, fixedrange=True,
                 tickfont=dict(family=FONT, size=11, color=TXT), ticklabelstandoff=9)
    if minor:
        ydict["minor"] = minor
    layout[yname] = ydict

    # night shading
    for x0, x1 in [(start, pd.Timestamp(DAY_FROM)), (pd.Timestamp(DAY_TO), end)]:
        shapes.append(dict(type="rect", xref=xref, yref=f"{yref} domain", x0=x0, x1=x1,
                           y0=0, y1=1, fillcolor=NIGHT, line_width=0, layer="below"))
    # axis arrows
    shapes.append(dict(type="path", xref="paper", yref="paper",
                       path=f"M {px(PLOT_L-3)},{py(top-4)} L {px(PLOT_L)},{py(top-10)} L {px(PLOT_L+3)},{py(top-4)} Z",
                       line=dict(color=AXIS, width=1), fillcolor=BG, layer="above"))
    shapes.append(dict(type="path", xref="paper", yref="paper",
                       path=f"M {px(PLOT_R+4)},{py(bottom-3)} L {px(PLOT_R+10)},{py(bottom)} L {px(PLOT_R+4)},{py(bottom+3)} Z",
                       line=dict(color=AXIS, width=1), fillcolor=BG, layer="above"))
    # title
    text(995, top - 17, TITLES[k], "center", size=15)

    common = dict(xaxis=xref, yaxis=yref, hoverinfo="skip")
    common2 = dict(xaxis=xref2, yaxis=yref, hoverinfo="skip")
    hy = top + 286
    if k < 4:
        series = [cpu_196608, cpu_196609, cpu_196610, cpu_196611][k]
        fig.add_trace(go.Scatter(x=t10, y=series, mode="lines", line=dict(color=CPU_LINE, width=1.5),
                                 fill="tozeroy", fillcolor=CPU_FILL, connectgaps=False, **common))
        lvl = TRIGGER_LEVEL[k]
        fig.add_trace(go.Scatter(x=[start, end], y=[lvl, lvl], mode="lines",
                                 line=dict(color="#f2b48a", width=2.5), **common2))
        fig.add_trace(go.Scatter(x=[start, end], y=[lvl, lvl], mode="lines",
                                 line=dict(color="#3a3a3a", width=2.5, dash="3px,4px"), **common2))
        for head, hx in zip(["last", "min", "avg", "max"], [259, 302, 354, 411]):
            text(hx, hy, head, "center")
        square(11, top + 300, "#2a7f2a", 10)
        text(27, top + 300, f"#{HOSTS[k]}: CPU utilization")
        text(198, top + 300, "[avg]")
        for v, rx in zip(CPU_STATS[k], [271, 314, 376, 427]):
            text(rx, top + 300, v, "right")
        shapes.append(dict(type="circle", xref="paper", yref="paper",
                           x0=px(11), x1=px(21), y0=py(top + 324), y1=py(top + 314),
                           fillcolor="#f5bf98", line=dict(color="#2a2a2a", width=1), layer="above"))
        text(26, top + 319, f"Trigger: #{HOSTS[k]}: High CPU utilization")
        text(280, top + 319, "[&gt; 90]")
    elif k == 4:
        fig.add_trace(go.Scatter(x=t10, y=pct_user, mode="lines", stackgroup="p5",
                                 line=dict(color=PCT_COLORS["user"], width=0.5),
                                 fillcolor=PCT_COLORS["user"], **common))
        fig.add_trace(go.Scatter(x=t10, y=pct_idle, mode="lines", stackgroup="p5",
                                 line=dict(color=PCT_COLORS["idle"], width=0.5),
                                 fillcolor=PCT_COLORS["idle"], **common))
        fig.add_trace(go.Scatter(x=[start, end], y=pct_system, mode="lines",
                                 line=dict(color=PCT_COLORS["system"], width=0.5), **common2))
        for head, hx in zip(["last", "min", "avg", "max"], [246, 298, 359, 420]):
            text(hx, hy, head, "center")
        for r, (name, stats) in enumerate(PCT_ROWS):
            yy = top + 300 + 14 * r
            square(13, yy, list(PCT_COLORS.values())[r])
            text(29, yy, name)
            text(181, yy, "[avg]")
            for v, rx in zip(stats, [262, 313, 384, 435]):
                text(rx, yy, v, "right")
    elif k == 5:
        stack = [(raw_kernel, RAW_COLORS[6], "#e8b0b0"), (raw_interrupt, RAW_COLORS[5], "#139090"),
                 (raw_system, RAW_COLORS[2], "#6e1010"), (raw_user, RAW_COLORS[1], "#10107a"),
                 (raw_idle, RAW_COLORS[0], "#156815")]
        for ys, fc, lc in stack:
            fig.add_trace(go.Scatter(x=t10, y=ys, mode="lines", stackgroup="p6",
                                     line=dict(color=lc, width=0.6), fillcolor=fc, **common))
        for zc in (RAW_COLORS[3], RAW_COLORS[4], RAW_COLORS[7]):
            fig.add_trace(go.Scatter(x=[start, end], y=raw_zero, mode="lines",
                                     line=dict(color=zc, width=0.5), **common2))
        for head, hx in zip(["last", "min", "avg", "max"], [239, 318, 396, 475]):
            text(hx, hy, head, "center")
        for r, (name, stats) in enumerate(RAW_ROWS):
            yy = top + 300 + 14 * r
            square(10, yy, RAW_COLORS[r])
            text(26, yy, name)
            text(159, yy, "[avg]")
            for v, rx in zip(stats, [268, 347, 426, 505]):
                text(rx, yy, v, "right")
    else:
        fig.add_trace(go.Scatter(x=t5, y=load_1, mode="lines", connectgaps=False,
                                 line=dict(color=LOAD_COLORS[0], width=1.1), **common))
        fig.add_trace(go.Scatter(x=t10, y=load_5, mode="lines", connectgaps=False,
                                 line=dict(color=LOAD_COLORS[1], width=1.2, shape="hv"), **common))
        fig.add_trace(go.Scatter(x=t10, y=load_15, mode="lines", connectgaps=False,
                                 line=dict(color=LOAD_COLORS[2], width=1.2, shape="hv"), **common2))
        for head, hx in zip(["last", "min", "avg", "max"], [212, 260, 314, 367]):
            text(hx, hy, head, "center")
        for r, (name, stats) in enumerate(LOAD_ROWS):
            yy = top + 300 + 14 * r
            square(13, yy, LOAD_SQ[r])
            text(29, yy, name)
            text(150, yy, "[avg]")
            for v, rx in zip(stats, [226, 273, 337, 384]):
                text(rx, yy, v, "right")

layout["annotations"] = annotations
layout["shapes"] = shapes
fig.update_layout(**layout)
fig.write_html("out.html", config={"displayModeBar": False, "staticPlot": True},
               post_script="document.body.style.margin='0';document.body.style.background='" + BG + "';")
